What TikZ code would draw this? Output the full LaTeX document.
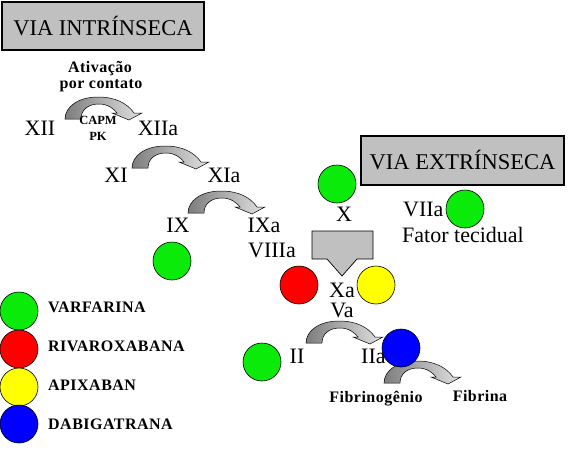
\documentclass[tikz,border=0pt]{standalone}
\usepackage{fontspec}
\setmainfont{Liberation Serif}
\newfontfamily\bsp[LetterSpace=3]{Liberation Serif}
\definecolor{boxgray}{RGB}{192,192,192}
\definecolor{arrdark}{RGB}{125,125,125}
\definecolor{arrlight}{RGB}{225,225,225}
\definecolor{dgreen}{RGB}{10,235,10}
\definecolor{dred}{RGB}{255,0,0}
\definecolor{dyellow}{RGB}{255,255,0}
\definecolor{dblue}{RGB}{0,0,255}
\tikzset{
  lab/.style={font=\fontsize{22}{24}\selectfont, inner sep=0pt, anchor=base},
  blab/.style={font=\bsp\bfseries\fontsize{16}{18}\selectfont, inner sep=0pt, anchor=base},
  small/.style={font=\bfseries\fontsize{12.5}{14}\selectfont, inner sep=0pt, anchor=base},
  drug/.style={circle, draw=black, line width=0.6pt, minimum size=38pt, inner sep=0pt},
  titlebox/.style={draw=black, line width=1.3pt, fill=boxgray, inner sep=0pt,
    font=\fontsize{22.5}{24}\selectfont},
  curv/.style={draw=black, line width=0.5pt, left color=arrdark, right color=arrlight},
  downarr/.style={draw=black, line width=0.7pt, fill=boxgray}
}
\newcommand\curvarrow[1]{%
  \path[curv, shift={#1}] (0,0) -- (16,0) .. controls (16,-9) and (23,-15) .. (34,-15)
    .. controls (43,-15) and (49,-10) .. (52,-6) -- (47,-6) -- (64,1) -- (77,-6) -- (69,-6)
    .. controls (62,-16) and (50,-22) .. (33,-22) .. controls (13,-22) and (0,-12) .. (0,0) -- cycle;}
\begin{document}
\begin{tikzpicture}[x=1pt,y=-1pt]
\useasboundingbox (0,0) rectangle (576,455);
% title boxes
\node[titlebox, minimum width=202pt, minimum height=48pt] (vin) at (103,26) {VIA INTRÍNSECA};
\node[titlebox, minimum width=203pt, minimum height=49pt] (vex) at (462.5,160.5) {VIA EXTRÍNSECA};
% curved arrows
\curvarrow{(65,119)}
\curvarrow{(132,168)}
\curvarrow{(188,213)}
\curvarrow{(306,343)}
\curvarrow{(384,383)}
% down arrow
\path[downarr] (312,231) -- (373,231) -- (373,259) -- (357,259) -- (342,276) -- (327,259) -- (312,259) -- cycle;
% labels
\node[blab] (ativ) at (100,72) {Ativação};
\node[blab] (porc) at (101,88) {por contato};
\node[small] (capm) at (98,124) {CAPM};
\node[small] (pk) at (98,140) {PK};
\node[lab] (xii) at (40,135) {XII};
\node[lab] (xiia) at (158,135) {XIIa};
\node[lab] (xi) at (116,182) {XI};
\node[lab] (xia) at (224,182) {XIa};
\node[lab] (ix) at (178,232) {IX};
\node[lab] (ixa) at (264,232) {IXa};
\node[lab, anchor=base west] (viiia) at (248,257) {VIIIa};
\node[lab] (x) at (344,221) {X};
\node[lab, anchor=base west] (viia) at (403,216) {VIIa};
\node[lab, anchor=base west] (ft) at (402,242) {Fator tecidual};
\node[lab] (xa) at (342,297) {Xa};
\node[lab] (va) at (342,317) {Va};
\node[lab] (ii) at (297,363) {II};
\node[lab, anchor=base west] (iia) at (361,363) {IIa};
\node[blab] (fgen) at (376,402) {Fibrinogênio};
\node[blab] (fib) at (480,401) {Fibrina};
% drug circles on the cascade
\node[drug, fill=dgreen] (g1) at (172,261) {};
\node[drug, fill=dgreen] (g2) at (337,184) {};
\node[drug, fill=dgreen] (g3) at (465,209) {};
\node[drug, fill=dred] (r1) at (299,285) {};
\node[drug, fill=dyellow] (y1) at (376,285) {};
\node[drug, fill=dgreen] (g4) at (262,362) {};
\node[drug, fill=dblue] (b1) at (401,348) {};
% legend
\node[drug, fill=dgreen] (lg) at (19,311) {};
\node[drug, fill=dred] (lr) at (19,349) {};
\node[drug, fill=dyellow] (ly) at (19,387) {};
\node[drug, fill=dblue] (lb) at (19,424) {};
\node[blab, anchor=base west] (tv) at (48,312) {VARFARINA};
\node[blab, anchor=base west] (tr) at (48,351) {RIVAROXABANA};
\node[blab, anchor=base west] (ta) at (48,390) {APIXABAN};
\node[blab, anchor=base west] (td) at (48,429) {DABIGATRANA};
\end{tikzpicture}
\end{document}
